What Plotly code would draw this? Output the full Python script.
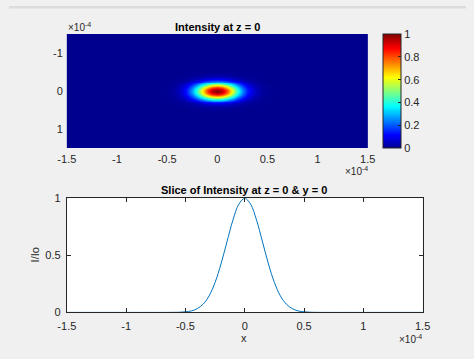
import numpy as np
import plotly.graph_objects as go

# ---- data (x, y in units of 1e-4 m) ----
x_pos = [-1.5, -1.0, -0.7, -0.6, -0.55, -0.5, -0.45, -0.4, -0.35, -0.3, -0.25, -0.2,
         -0.15, -0.1, -0.05, 0.0, 0.05, 0.1, 0.15, 0.2, 0.25, 0.3, 0.35, 0.4, 0.45,
         0.5, 0.55, 0.6, 0.7, 1.0, 1.5]
slice_I = [0.0, 0.0, 0.0, 0.0005, 0.0016, 0.005, 0.013, 0.033, 0.073, 0.146, 0.263, 0.425,
           0.618, 0.808, 0.948, 1.0, 0.948, 0.808, 0.618, 0.425, 0.263, 0.146, 0.073, 0.033, 0.013,
           0.005, 0.0016, 0.0005, 0.0, 0.0, 0.0]
y_pos = list(x_pos)
y_profile = list(slice_I)

x_ticks = [-1.5, -1, -0.5, 0, 0.5, 1, 1.5]
x_ticktext = ["-1.5", "-1", "-0.5", "0", "0.5", "1", "1.5"]
y_ticks_top = [-1, 0, 1]
y_ticktext_top = ["-1", "0", "1"]
y_ticks_bot = [0, 0.5, 1]
y_ticktext_bot = ["0", "0.5", "1"]
cb_ticks = [0, 0.2, 0.4, 0.6, 0.8, 1]
cb_ticktext = ["0", "0.2", "0.4", "0.6", "0.8", "1"]

scale = 1e-4
xs = [v * scale for v in x_pos]
ys = [v * scale for v in y_pos]
Z = np.outer(np.array(y_profile), np.array(slice_I))

W, H = 474, 359
def px(v):
    return v / W
def py(v):
    return 1 - v / H

jet = [[0.0, "rgb(0,0,143)"], [0.111, "rgb(0,0,255)"], [0.365, "rgb(0,255,255)"],
       [0.619, "rgb(255,255,0)"], [0.873, "rgb(255,0,0)"], [1.0, "rgb(128,0,0)"]]

FONT = "Liberation Sans, Arial, sans-serif"
AX = "#262626"

fig = go.Figure()
fig.add_trace(go.Heatmap(
    x=xs, y=ys, z=Z, zmin=0, zmax=1, colorscale=jet, zsmooth="best",
    xaxis="x", yaxis="y",
    colorbar=dict(
        x=px(388), xanchor="left", xpad=0, ypad=0,
        y=py(147), yanchor="bottom", len=118 / H, lenmode="fraction",
        thickness=18, thicknessmode="pixels",
        outlinecolor=AX, outlinewidth=1,
        tickvals=cb_ticks, ticktext=cb_ticktext, ticks="inside", ticklen=3,
        tickcolor=AX, tickfont=dict(family=FONT, size=11, color=AX),
    ),
    hoverinfo="skip",
))
fig.add_trace(go.Scatter(
    x=xs, y=slice_I, mode="lines", line=dict(color="#0072BD", width=1, shape="spline"),
    xaxis="x2", yaxis="y2", showlegend=False,
))

axcommon = dict(showline=True, linecolor=AX, linewidth=1, mirror="ticks", ticks="inside",
                ticklen=4, tickcolor=AX, showgrid=False, zeroline=False,
                tickfont=dict(family=FONT, size=11, color=AX), ticklabelstandoff=3)
axtop = dict(showline=False, ticks="", showgrid=False, zeroline=False,
             tickfont=dict(family=FONT, size=11, color=AX), ticklabelstandoff=3)

fig.update_layout(
    width=W, height=H, margin=dict(l=0, r=0, t=0, b=0),
    paper_bgcolor="#f0f0f0", plot_bgcolor="white", showlegend=False,
    xaxis=dict(domain=[px(60), px(372)], anchor="y", range=[-1.5e-4, 1.5e-4],
               tickvals=[v * scale for v in x_ticks], ticktext=x_ticktext, **axtop),
    yaxis=dict(domain=[py(147), py(29)], anchor="x", range=[1.5e-4, -1.5e-4],
               tickvals=[v * scale for v in y_ticks_top], ticktext=y_ticktext_top, **axtop),
    xaxis2=dict(domain=[px(60), px(429)], anchor="y2", range=[-1.5e-4, 1.5e-4],
                tickvals=[v * scale for v in x_ticks], ticktext=x_ticktext, **axcommon),
    yaxis2=dict(domain=[py(317), py(199)], anchor="x2", range=[0, 1],
                tickvals=y_ticks_bot, ticktext=y_ticktext_bot, **axcommon),
)

ann = []
def A(text, x, y, size=11, bold=False, angle=0, xanchor="center"):
    ann.append(dict(text=("<b>%s</b>" % text) if bold else text, x=px(x), y=py(y),
                    xref="paper", yref="paper", showarrow=False, xanchor=xanchor,
                    yanchor="middle", textangle=angle,
                    font=dict(family=FONT, size=size, color="black" if bold else AX)))

A("Intensity at z = 0", 216, 22, bold=True)
A("Slice of Intensity at z = 0 &amp; y = 0", 244, 190, bold=True)
A("×10<sup>-4</sup>", 59, 22, size=10, xanchor="left")
A("×10<sup>-4</sup>", 346, 171, size=10, xanchor="left")
A("×10<sup>-4</sup>", 402, 344, size=10, xanchor="left")
A("x", 244, 343)
A("I/Io", 27, 258, angle=-90)
fig.update_layout(annotations=ann)
fig.add_shape(type="rect", xref="paper", yref="paper", x0=0, x1=1, y0=py(2.5), y1=1,
              fillcolor="#dcdcdc", line=dict(width=0), layer="below")
fig.add_shape(type="rect", xref="x domain", yref="y domain", x0=0, x1=1, y0=0, y1=1,
              fillcolor="rgb(0,0,143)", line=dict(width=0), layer="below")

fig.write_html("out.html", config={"displayModeBar": False},
               post_script="document.body.style.margin='0';document.body.style.padding='0';")
